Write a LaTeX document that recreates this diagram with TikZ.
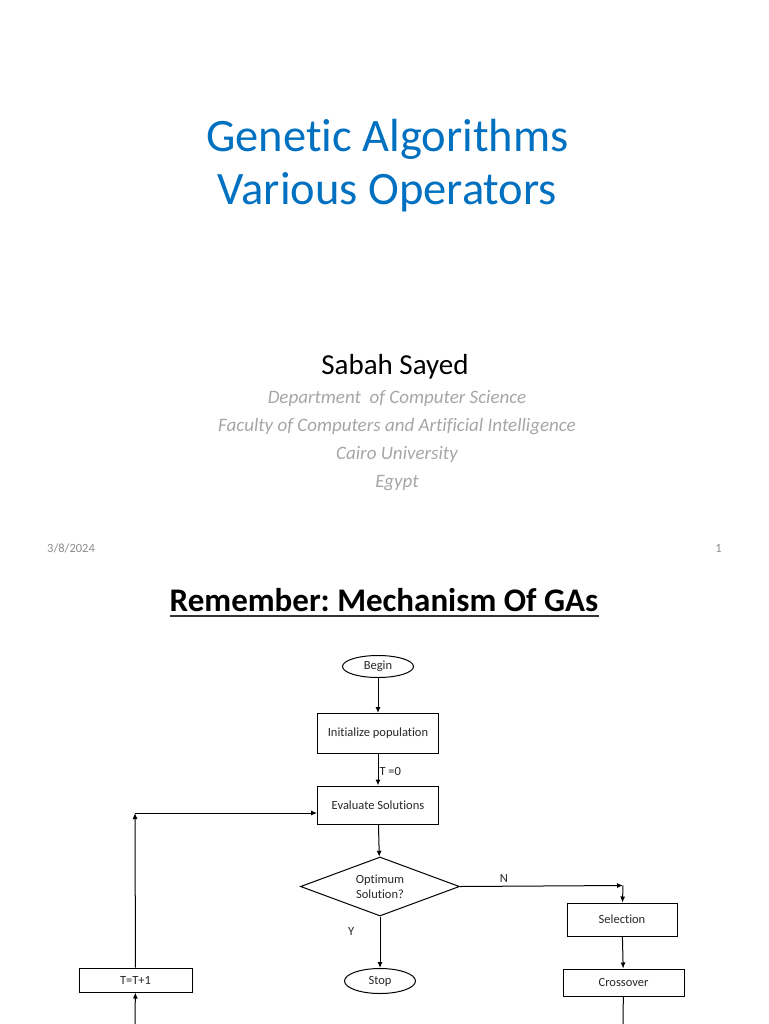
\documentclass[tikz,border=0pt]{standalone}
\usepackage{fontspec}
\setmainfont{Carlito}[Ligatures=NoCommon]
\usetikzlibrary{arrows.meta,shapes.geometric}
\definecolor{titleblue}{HTML}{0070C0}
\definecolor{subgray}{HTML}{A6A6A6}
\definecolor{dategray}{HTML}{8C8C8C}
\frenchspacing

\begin{document}
\begin{tikzpicture}[x=1pt, y=-1pt, every node/.style={font=\fontsize{12.5}{15}\selectfont, text=black!85},
	>={Latex[length=6pt,width=5pt]},
	box/.style={draw, line width=1pt, inner sep=0pt},
	oval/.style={draw, ellipse, line width=1pt, inner sep=0pt},
	flow/.style={line width=1pt}]
	\useasboundingbox (0,0) rectangle (768,1024);
	% title slide
	\node[anchor=base, inner sep=0, text=titleblue, font=\fontsize{46.5}{52}\selectfont] (title1) at (387.5,152) {Genetic Algorithms};
	\node[anchor=base, inner sep=0, text=titleblue, font=\fontsize{46.5}{52}\selectfont] (title2) at (387.5,205) {Various Operators};
	\node[anchor=base, inner sep=0, text=black, font=\fontsize{29}{32}\selectfont] (author) at (395,374) {Sabah Sayed};
	\foreach \n/\txt/\yy in {dept/Department~ of Computer Science/403, fac/Faculty of Computers and Artificial Intelligence/431, univ/Cairo University/459, country/Egypt/487} {
		\node[anchor=base, inner sep=0, text=subgray, font=\fontsize{19}{22}\selectfont\itshape] (\n) at (397,\yy) {\txt};
	}
	\node[anchor=base west, inner sep=0, text=dategray, font=\fontsize{12.5}{15}\selectfont] (date) at (47,552) {3/8/2024};
	\node[anchor=base east, inner sep=0, text=dategray, font=\fontsize{12.5}{15}\selectfont] (pagenum) at (722,552) {1};
	% second slide
	\node[anchor=base, inner sep=0, text=black, font=\fontsize{33}{36}\selectfont\bfseries] (remember) at (384,611) {Remember: Mechanism Of GAs};
	\draw[line width=1.8pt, black!80] ([yshift=-5pt]remember.base west) -- ([yshift=-5pt]remember.base east);

	\node[oval, minimum width=71, minimum height=22] (begin) at (378,666.5) {Begin};
	\node[box, minimum width=121, minimum height=40] (init) at (378,733.5) {Initialize population};
	\node[box, minimum width=121, minimum height=38] (evaluate) at (378,805) {Evaluate Solutions};
	\node[draw, diamond, aspect=2.7, line width=1pt, inner sep=0, minimum width=159, minimum height=59, align=center, font=\fontsize{12.5}{15.5}\selectfont] (optimum) at (380,886.5) {Optimum\\Solution?};
	\node[oval, minimum width=71, minimum height=25] (stop) at (380,981) {Stop};
	\node[box, minimum width=110, minimum height=33] (selection) at (622,919.5) {Selection};
	\node[box, minimum width=121, minimum height=27] (crossover) at (623.5,982.5) {Crossover};
	\node[box, minimum width=113, minimum height=24] (tinc) at (135.5,980) {T=T+1};

	\coordinate (nturn) at (623,885.5);
	\coordinate (loopturn) at (135,813);
	\coordinate (crossout) at (623,1024);
	\coordinate (tincin) at (135,1024);

	\draw[flow, ->] (begin) -- (init);
	\draw[flow, ->] (init) -- node[right, inner sep=1pt, pos=0.55] (tzero) {T =0} (evaluate);
	\draw[flow, ->] (evaluate) -- (optimum);
	\draw[flow, ->] (optimum) -- node[left, pos=0.3, xshift=-22pt] (yes) {Y} (stop);
	\draw[flow, ->] (optimum.east) -- node[above, pos=0.27] (no) {N} (nturn);
	\draw[flow, ->] (nturn) -- (selection);
	\draw[flow, ->] (selection) -- (crossover);
	\draw[flow] (crossover) -- (crossout);
	\draw[flow, ->] (tincin) -- (tinc);
	\draw[flow, ->] (tinc) -- (loopturn);
	\draw[flow, ->] (loopturn) -- (loopturn -| evaluate.west);
\end{tikzpicture}
\end{document}
